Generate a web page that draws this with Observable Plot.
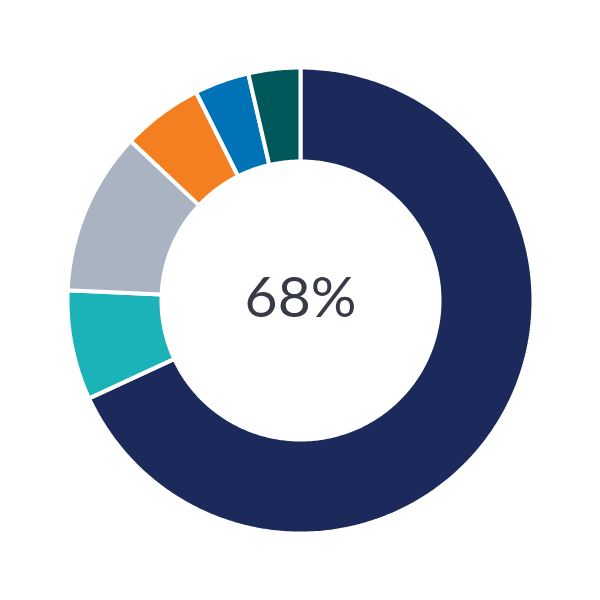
<!DOCTYPE html>
<html>
<head>
<meta charset="utf-8">
<script src="https://cdn.jsdelivr.net/npm/d3@7"></script>
<script src="https://cdn.jsdelivr.net/npm/@observablehq/plot@0.6"></script>
<style>
  html, body { margin: 0; padding: 0; background: #fff; }
</style>
</head>
<body>
<div id="chart"></div>
<script>
const categories = ["A", "B", "C", "D", "E", "F"];
const values = [68.1, 7.6, 11.3, 5.6, 3.8, 3.6];
const colors = ["#1b2a5b", "#1bb3b8", "#a9b3c1", "#f47f20", "#0073b6", "#01585a"];
const centerLabel = "68%";

const outerR = 233, innerR = 139;
const pie = d3.pie().sort(null).value(d => d.value)(categories.map((c, i) => ({cat: c, value: values[i]})));
const pts = [];
for (const s of pie) {
  const n = Math.max(8, Math.ceil((s.endAngle - s.startAngle) * 80));
  for (let k = 0; k <= n; k++) {
    const a = s.startAngle + (s.endAngle - s.startAngle) * k / n;
    pts.push({cat: s.data.cat, x: outerR * Math.sin(a), y: outerR * Math.cos(a)});
  }
  for (let k = n; k >= 0; k--) {
    const a = s.startAngle + (s.endAngle - s.startAngle) * k / n;
    pts.push({cat: s.data.cat, x: innerR * Math.sin(a), y: innerR * Math.cos(a)});
  }
}

const chart = Plot.plot({
  width: 600,
  height: 600,
  margin: 0,
  x: {domain: [-300, 300], axis: null},
  y: {domain: [-300, 300], axis: null},
  color: {domain: categories, range: colors},
  marks: [
    Plot.line(pts, {x: "x", y: "y", z: "cat", fill: "cat", stroke: "white", strokeWidth: 4, curve: "linear-closed", strokeLinejoin: "miter"}),
    Plot.text([centerLabel], {x: () => 0, y: () => 0, text: d => d, fontSize: 57, fontWeight: 400, fill: "#363b45", fontFamily: "Lato", textAnchor: "middle", dy: -2})
  ]
});
document.getElementById("chart").appendChild(chart);
</script>
</body>
</html>
